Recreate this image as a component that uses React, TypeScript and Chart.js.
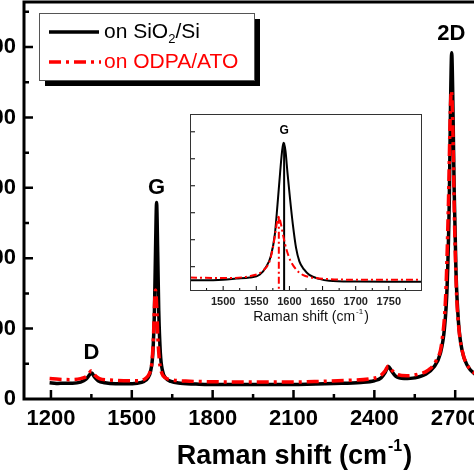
import { useEffect, useRef } from "react";
import { Chart, registerables } from "chart.js";

Chart.register(...registerables);

const FONT = "Arial, 'Liberation Sans', Helvetica, sans-serif";

// ---------- main spectrum data ----------
const mainShiftSiO2 = [1195, 1220, 1250, 1280, 1310, 1330, 1345, 1352, 1360, 1375, 1400, 1440, 1480, 1520, 1545, 1560, 1570, 1578, 1584, 1588, 1592, 1596, 1600, 1606, 1614, 1625, 1645, 1680, 1750, 1850, 1950, 2050, 2150, 2250, 2350, 2400, 2425, 2440, 2452, 2462, 2480, 2510, 2550, 2590, 2620, 2645, 2660, 2670, 2678, 2683, 2687, 2691, 2696, 2703, 2712, 2725, 2745, 2775, 2820, 2900, 3000];
const mainIntSiO2 = [46, 44, 45, 45, 48, 56, 70, 74, 64, 52, 46, 43, 43, 45, 50, 60, 80, 130, 250, 420, 558, 420, 250, 130, 80, 60, 50, 45, 42, 41, 41, 41, 42, 44, 47, 52, 60, 75, 92, 82, 64, 58, 60, 70, 90, 130, 200, 320, 560, 850, 984, 860, 600, 360, 220, 140, 95, 70, 58, 52, 50];

const mainShiftODPA = [1195, 1230, 1270, 1310, 1335, 1350, 1362, 1380, 1420, 1470, 1520, 1550, 1565, 1574, 1580, 1585, 1588, 1592, 1597, 1603, 1612, 1625, 1650, 1700, 1800, 1900, 2000, 2100, 2200, 2300, 2380, 2420, 2440, 2452, 2465, 2485, 2520, 2560, 2600, 2630, 2650, 2665, 2675, 2682, 2686, 2691, 2697, 2705, 2715, 2730, 2750, 2780, 2820, 2900, 3000];
const mainIntODPA = [58, 56, 55, 58, 66, 80, 68, 58, 54, 52, 52, 58, 72, 100, 170, 280, 310, 270, 170, 105, 72, 60, 54, 51, 49, 48, 48, 48, 50, 53, 57, 65, 80, 94, 82, 70, 66, 70, 82, 110, 160, 300, 560, 820, 876, 780, 520, 300, 190, 125, 90, 70, 60, 55, 52];

const mainXTicks = [1200, 1500, 1800, 2100, 2400, 2700, 3000];
const mainXMinor = [1350, 1650, 1950, 2250, 2550, 2850];
const mainYTicks = [0, 200, 400, 600, 800, 1000];
const mainYMinor = [100, 300, 500, 700, 900, 1100];

const peakLabels = ["D", "G", "2D"];
const peakLabelShift = [1350, 1592, 2686];
const peakLabelInt = [131, 600, 1036];

const seriesNames = ["on SiO", "on ODPA/ATO"];

// ---------- inset (G band zoom) data ----------
const insetShiftSiO2 = [1450, 1470, 1500, 1520, 1540, 1555, 1565, 1572, 1578, 1582, 1586, 1589, 1591, 1594, 1597, 1601, 1605, 1610, 1615, 1622, 1630, 1645, 1660, 1700, 1750, 1800];
const insetIntSiO2 = [-50, -50, -48, -44, -40, -30, 0, 40, 120, 230, 350, 430, 459, 430, 350, 250, 160, 70, 20, -10, -30, -45, -52, -55, -56, -56];

const insetShiftODPA = [1450, 1500, 1540, 1560, 1570, 1575, 1579, 1582, 1584, 1587, 1591, 1596, 1602, 1610, 1620, 1640, 1700, 1750, 1800];
const insetIntODPA = [-40, -42, -35, -15, 20, 70, 130, 175, 185, 160, 110, 60, 20, -10, -30, -42, -48, -48, -48];

const insetPeakSiO2 = [1592, 459];
const insetPeakODPA = [1584, 185];
const insetXTicks = [1500, 1550, 1600, 1650, 1700, 1750];
const insetXMinor = [1475, 1525, 1575, 1625, 1675, 1725, 1775];
const insetYTicks = [0, 100, 200, 300, 400, 500];

const toPts = (xs: number[], ys: number[]) => xs.map((x, i) => ({ x, y: ys[i] }));

function drawSupText(
  ctx: CanvasRenderingContext2D,
  cx: number,
  cy: number,
  base: string,
  sup: string,
  tail: string,
  size: number,
  weight: string
) {
  const big = `${weight} ${size}px ${FONT}`;
  const small = `${weight} ${Math.round(size * 0.58)}px ${FONT}`;
  ctx.font = big;
  const w1 = ctx.measureText(base).width;
  const w3 = ctx.measureText(tail).width;
  ctx.font = small;
  const w2 = ctx.measureText(sup).width;
  const x0 = cx - (w1 + w2 + w3) / 2;
  ctx.textAlign = "left";
  ctx.textBaseline = "middle";
  ctx.font = big;
  ctx.fillText(base, x0, cy);
  ctx.font = small;
  ctx.fillText(sup, x0 + w1 + 1, cy - size * 0.38);
  ctx.font = big;
  ctx.fillText(tail, x0 + w1 + w2 + 2, cy);
}

function drawTicks(
  ctx: CanvasRenderingContext2D,
  chart: any,
  xMajor: number[],
  xMinor: number[],
  yMajor: number[],
  yMinor: number[],
  majLen: number,
  minLen: number,
  width: number
) {
  const a = chart.chartArea;
  const xs = chart.scales.x;
  const ys = chart.scales.y;
  ctx.strokeStyle = "#000";
  ctx.lineWidth = width;
  ctx.beginPath();
  const xt = (vals: number[], len: number) => {
    for (const v of vals) {
      const px = xs.getPixelForValue(v);
      if (px < a.left + 1 || px > a.right - 1) continue;
      ctx.moveTo(px, a.bottom);
      ctx.lineTo(px, a.bottom - len);
    }
  };
  const yt = (vals: number[], len: number) => {
    for (const v of vals) {
      const py = ys.getPixelForValue(v);
      if (py < a.top + 1 || py > a.bottom - 1) continue;
      ctx.moveTo(a.left, py);
      ctx.lineTo(a.left + len, py);
    }
  };
  xt(xMajor, majLen);
  xt(xMinor, minLen);
  yt(yMajor, majLen);
  yt(yMinor, minLen);
  ctx.stroke();
}

const noPad = (s: any) => {
  s.paddingTop = 0;
  s.paddingBottom = 0;
  s.paddingLeft = 0;
  s.paddingRight = 0;
};

const SHIFT = 40; // main canvas shifted left so y labels are cropped

export default function App() {
  const mainRef = useRef<HTMLCanvasElement>(null);
  const insetRef = useRef<HTMLCanvasElement>(null);

  useEffect(() => {
    const mainDecor = {
      id: "mainDecor",
      afterDraw(chart: any) {
        const ctx: CanvasRenderingContext2D = chart.ctx;
        const a = chart.chartArea;
        ctx.save();
        drawTicks(ctx, chart, mainXTicks, mainXMinor, mainYTicks, mainYMinor, 9, 5, 2.5);
        ctx.lineWidth = 3;
        ctx.strokeStyle = "#000";
        ctx.strokeRect(a.left, a.top, a.right - a.left, a.bottom - a.top);
        // peak labels
        ctx.fillStyle = "#000";
        ctx.font = `bold 22px ${FONT}`;
        ctx.textAlign = "center";
        ctx.textBaseline = "middle";
        peakLabels.forEach((t, i) => {
          ctx.fillText(
            t,
            chart.scales.x.getPixelForValue(peakLabelShift[i]),
            chart.scales.y.getPixelForValue(peakLabelInt[i])
          );
        });
        // axis title
        drawSupText(ctx, (a.left + a.right) / 2, 457, "Raman shift (cm", "-1", ")", 27, "bold");
        // legend
        const lx = 39 + SHIFT;
        const ly = 13;
        const lw = 215;
        const lh = 67;
        ctx.fillStyle = "#000";
        ctx.fillRect(lx + 6, ly + 6, lw, lh);
        ctx.fillStyle = "#fff";
        ctx.fillRect(lx, ly, lw, lh);
        ctx.lineWidth = 1;
        ctx.strokeStyle = "#555";
        ctx.strokeRect(lx + 0.5, ly + 0.5, lw, lh);
        // sample lines
        ctx.lineWidth = 3.5;
        ctx.strokeStyle = "#000";
        ctx.setLineDash([]);
        ctx.beginPath();
        ctx.moveTo(lx + 10, 32);
        ctx.lineTo(lx + 60, 32);
        ctx.stroke();
        ctx.strokeStyle = "#ff0000";
        ctx.setLineDash([12, 5, 3, 5]);
        ctx.beginPath();
        ctx.moveTo(lx + 10, 62);
        ctx.lineTo(lx + 62, 62);
        ctx.stroke();
        ctx.setLineDash([]);
        ctx.textAlign = "left";
        ctx.textBaseline = "middle";
        ctx.font = `21px ${FONT}`;
        ctx.fillStyle = "#000";
        const tx = lx + 65;
        ctx.fillText(seriesNames[0], tx, 32);
        const w = ctx.measureText(seriesNames[0]).width;
        ctx.font = `13px ${FONT}`;
        ctx.fillText("2", tx + w, 39);
        const w2 = ctx.measureText("2").width;
        ctx.font = `21px ${FONT}`;
        ctx.fillText("/Si", tx + w + w2, 32);
        ctx.fillStyle = "#ff0000";
        ctx.fillText(seriesNames[1], tx, 62);
        ctx.restore();
      },
    };

    const main = new Chart(mainRef.current!, {
      type: "line",
      data: {
        datasets: [
          {
            label: "on ODPA/ATO",
            data: toPts(mainShiftODPA, mainIntODPA),
            borderColor: "#ff0000",
            borderWidth: 3.5,
            borderDash: [12, 5, 3, 5],
            pointRadius: 0,
            cubicInterpolationMode: "monotone",
            order: 0,
          },
          {
            label: "on SiO2/Si",
            data: toPts(mainShiftSiO2, mainIntSiO2),
            borderColor: "#000000",
            borderWidth: 3.5,
            pointRadius: 0,
            cubicInterpolationMode: "monotone",
            order: 1,
          },
        ],
      },
      options: {
        animation: false,
        responsive: false,
        maintainAspectRatio: false,
        devicePixelRatio: 1,
        layout: { padding: { top: 2, left: 0, right: 0, bottom: 0 } },
        plugins: { legend: { display: false }, tooltip: { enabled: false } },
        scales: {
          x: {
            type: "linear",
            min: 1100,
            max: 3100,
            grid: { display: false, drawTicks: false, tickLength: 0 },
            border: { display: false },
            afterBuildTicks: (s: any) => {
              s.ticks = mainXTicks.map((v) => ({ value: v }));
            },
            afterFit: (s: any) => {
              s.height = 75;
              noPad(s);
            },
            ticks: {
              font: { family: FONT, size: 22, weight: "bold" },
              color: "#000",
              padding: 7,
              maxRotation: 0,
              autoSkip: false,
              callback: (v: any) => String(v),
            },
          },
          y: {
            type: "linear",
            min: 0,
            max: 1128,
            grid: { display: false, drawTicks: false, tickLength: 0 },
            border: { display: false },
            afterBuildTicks: (s: any) => {
              s.ticks = mainYTicks.map((v) => ({ value: v }));
            },
            afterFit: (s: any) => {
              s.width = 64;
              noPad(s);
            },
            ticks: {
              font: { family: FONT, size: 22, weight: "bold" },
              color: "#000",
              padding: 8,
              callback: (v: any) => String(v),
            },
          },
        },
      },
      plugins: [mainDecor],
    } as any);

    const insetDecor = {
      id: "insetDecor",
      beforeDatasetsDraw(chart: any) {
        const ctx: CanvasRenderingContext2D = chart.ctx;
        const a = chart.chartArea;
        ctx.save();
        ctx.fillStyle = "#fff";
        ctx.fillRect(a.left, a.top, a.right - a.left, a.bottom - a.top);
        ctx.restore();
      },
      afterDraw(chart: any) {
        const ctx: CanvasRenderingContext2D = chart.ctx;
        const a = chart.chartArea;
        ctx.save();
        drawTicks(ctx, chart, insetXTicks, insetXMinor, insetYTicks, [], 5, 3, 1);
        ctx.lineWidth = 1;
        ctx.strokeStyle = "#333";
        ctx.strokeRect(a.left + 0.5, a.top + 0.5, a.right - a.left - 1, a.bottom - a.top - 1);
        ctx.fillStyle = "#000";
        ctx.font = `bold 12px ${FONT}`;
        ctx.textAlign = "center";
        ctx.textBaseline = "middle";
        ctx.fillText(
          "G",
          chart.scales.x.getPixelForValue(insetPeakSiO2[0]),
          chart.scales.y.getPixelForValue(505)
        );
        ctx.fillStyle = "#111";
        drawSupText(ctx, (a.left + a.right) / 2 + 4, 217, "Raman shift (cm", "-1", ")", 14, "normal");
        ctx.restore();
      },
    };

    const inset = new Chart(insetRef.current!, {
      type: "line",
      data: {
        datasets: [
          {
            data: [
              { x: insetPeakODPA[0], y: insetPeakODPA[1] },
              { x: insetPeakODPA[0], y: -90 },
            ],
            borderColor: "#ff0000",
            borderWidth: 2,
            borderDash: [7, 3, 2, 3],
            pointRadius: 0,
            order: 0,
          },
          {
            data: toPts(insetShiftODPA, insetIntODPA),
            borderColor: "#ff0000",
            borderWidth: 2,
            borderDash: [7, 3, 2, 3],
            pointRadius: 0,
            cubicInterpolationMode: "monotone",
            order: 1,
          },
          {
            data: [
              { x: insetPeakSiO2[0], y: insetPeakSiO2[1] },
              { x: insetPeakSiO2[0], y: -90 },
            ],
            borderColor: "#000",
            borderWidth: 2,
            pointRadius: 0,
            order: 2,
          },
          {
            data: toPts(insetShiftSiO2, insetIntSiO2),
            borderColor: "#000",
            borderWidth: 2,
            pointRadius: 0,
            cubicInterpolationMode: "monotone",
            order: 3,
          },
        ],
      },
      options: {
        animation: false,
        responsive: false,
        maintainAspectRatio: false,
        devicePixelRatio: 1,
        layout: { padding: { top: 14, left: 0, right: 18, bottom: 0 } },
        plugins: { legend: { display: false }, tooltip: { enabled: false } },
        scales: {
          x: {
            type: "linear",
            min: 1450,
            max: 1800,
            grid: { display: false, drawTicks: false, tickLength: 0 },
            border: { display: false },
            afterBuildTicks: (s: any) => {
              s.ticks = insetXTicks.map((v) => ({ value: v }));
            },
            afterFit: (s: any) => {
              s.height = 44;
              noPad(s);
            },
            ticks: {
              font: { family: FONT, size: 11, weight: "bold" },
              color: "#222",
              padding: 4,
              maxRotation: 0,
              autoSkip: false,
              callback: (v: any) => String(v),
            },
          },
          y: {
            type: "linear",
            min: -90,
            max: 566,
            grid: { display: false, drawTicks: false, tickLength: 0 },
            border: { display: false },
            afterFit: (s: any) => {
              s.width = 30;
              noPad(s);
            },
            ticks: { display: false },
          },
        },
      },
      plugins: [insetDecor],
    } as any);

    return () => {
      main.destroy();
      inset.destroy();
    };
  }, []);

  return (
    <div
      style={{
        position: "fixed",
        left: 0,
        top: 0,
        width: 474,
        height: 474,
        overflow: "hidden",
        background: "#fff",
      }}
    >
      <canvas
        ref={mainRef}
        width={603}
        height={474}
        style={{ position: "absolute", left: -SHIFT, top: 0, width: 603, height: 474 }}
      />
      <canvas
        ref={insetRef}
        width={280}
        height={235}
        style={{ position: "absolute", left: 160, top: 100, width: 280, height: 235 }}
      />
    </div>
  );
}
